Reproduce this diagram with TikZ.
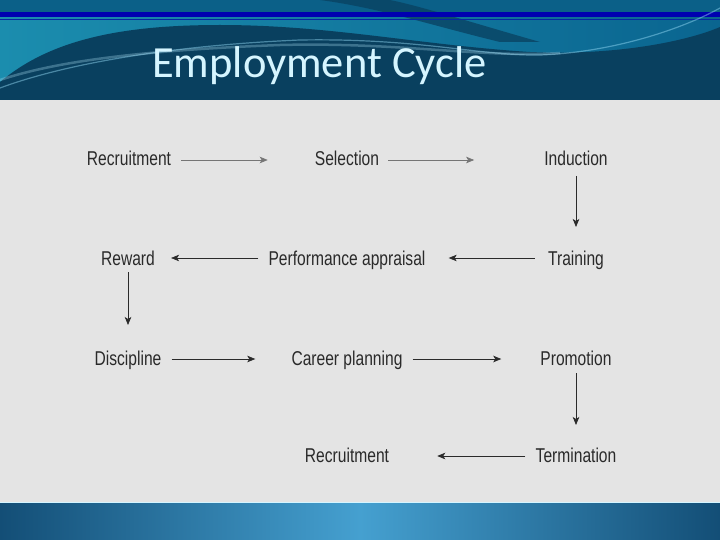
\documentclass[tikz,border=0pt]{standalone}
\usepackage{fontspec}
\newfontfamily\lblfont[FakeStretch=0.78]{Liberation Sans}
\newfontfamily\titlefont{Carlito}
\usetikzlibrary{arrows.meta}
\definecolor{hdrdark}{HTML}{09405F}
\definecolor{hdrmid}{HTML}{0A6590}
\definecolor{hdrlight}{HTML}{1B8DAE}
\definecolor{hdrtop}{HTML}{0B6088}
\definecolor{stripe}{HTML}{0000B0}
\definecolor{bodybg}{HTML}{E4E4E4}
\definecolor{barmid}{HTML}{45A0D0}
\definecolor{baredge}{HTML}{134E76}
\definecolor{titlecol}{HTML}{D5F5FF}
\definecolor{ink}{HTML}{2A2A2A}
\tikzset{
  lbl/.style={inner sep=0pt, anchor=base, font=\lblfont\fontsize{20}{22}\selectfont, text=ink},
  arr/.style={draw=ink, line width=0.75pt, -{Stealth[length=8pt,width=6.5pt,inset=2pt]}},
  arrlight/.style={arr, draw=ink!65, line width=0.6pt}
}
\begin{document}
\begin{tikzpicture}[x=1pt,y=-1pt]
\useasboundingbox (0,0) rectangle (720,540);
% body background
\fill[bodybg] (0,100) rectangle (720,503);
% header
\fill[hdrtop] (0,0) rectangle (720,12);
\shade[left color=hdrlight, right color=hdrmid] (0,18) rectangle (720,100);
\fill[hdrdark, opacity=0.75] (320,0) .. controls (380,8) and (430,25) .. (500,42)
   -- (540,42) .. controls (470,22) and (420,6) .. (390,0) -- cycle;
\fill[stripe] (0,12) rectangle (720,17.5);
\fill[stripe!60!hdrmid] (0,19) rectangle (720,20.3);
\fill[hdrdark] (0,100) -- (0,82) .. controls (50,40) and (120,25) .. (220,25)
   .. controls (330,25) and (420,45) .. (530,52) .. controls (620,56) and (690,40) .. (720,27)
   -- (720,100) -- cycle;
\draw[cyan!40!white, opacity=0.45, line width=1.2pt] (0,88) .. controls (70,62) and (180,45) .. (300,40)
   .. controls (420,38) and (480,56) .. (540,55) .. controls (620,52) and (690,25) .. (720,8);
\draw[cyan!30!white, opacity=0.3, line width=2.5pt] (0,80) .. controls (60,60) and (150,50) .. (280,45)
   .. controls (400,42) and (480,58) .. (560,53);
\node[anchor=base west, inner sep=0pt, text=titlecol, font=\titlefont\fontsize{44.5}{50}\selectfont] (title) at (152,78) {Employment Cycle};
% bottom bar
\shade[left color=baredge, right color=baredge, middle color=barmid] (0,503) rectangle (720,540);
\fill[titlecol] (0,501.5) rectangle (720,503);

% nodes
\node[lbl] (rec1) at (129,166) {Recruitment};
\node[lbl] (sel) at (347,166) {Selection};
\node[lbl] (ind) at (576,166) {Induction};
\node[lbl] (rew) at (128,265) {Reward};
\node[lbl] (perf) at (347,265) {Performance appraisal};
\node[lbl] (train) at (576,265) {Training};
\node[lbl] (disc) at (128,365) {Discipline};
\node[lbl] (career) at (347,365) {Career planning};
\node[lbl] (promo) at (576,365) {Promotion};
\node[lbl] (rec2) at (347,462) {Recruitment};
\node[lbl] (term) at (576,462) {Termination};

% connectors
\draw[arrlight] ([xshift=10pt,yshift=6pt]rec1.base east) -- ([xshift=-47pt,yshift=6pt]sel.base west);
\draw[arrlight] ([xshift=9pt,yshift=6pt]sel.base east) -- ([xshift=-70pt,yshift=6pt]ind.base west);
\draw[arr] ([yshift=-10pt]ind.base) -- ([yshift=38pt]train.base);
\draw[arr] ([xshift=-13pt,yshift=7pt]train.base west) -- ([xshift=23pt,yshift=7pt]perf.base east);
\draw[arr] ([xshift=-10pt,yshift=7pt]perf.base west) -- ([xshift=16pt,yshift=7pt]rew.base east);
\draw[arr] ([yshift=-7pt]rew.base) -- ([yshift=40pt]disc.base);
\draw[arr] ([xshift=10pt,yshift=6pt]disc.base east) -- ([xshift=-36pt,yshift=6pt]career.base west);
\draw[arr] ([xshift=10pt,yshift=6pt]career.base east) -- ([xshift=-39pt,yshift=6pt]promo.base west);
\draw[arr] ([yshift=-8pt]promo.base) -- ([yshift=37pt]term.base);
\draw[arr] ([xshift=-10pt,yshift=6pt]term.base west) -- ([xshift=48pt,yshift=6pt]rec2.base east);
\end{tikzpicture}
\end{document}
